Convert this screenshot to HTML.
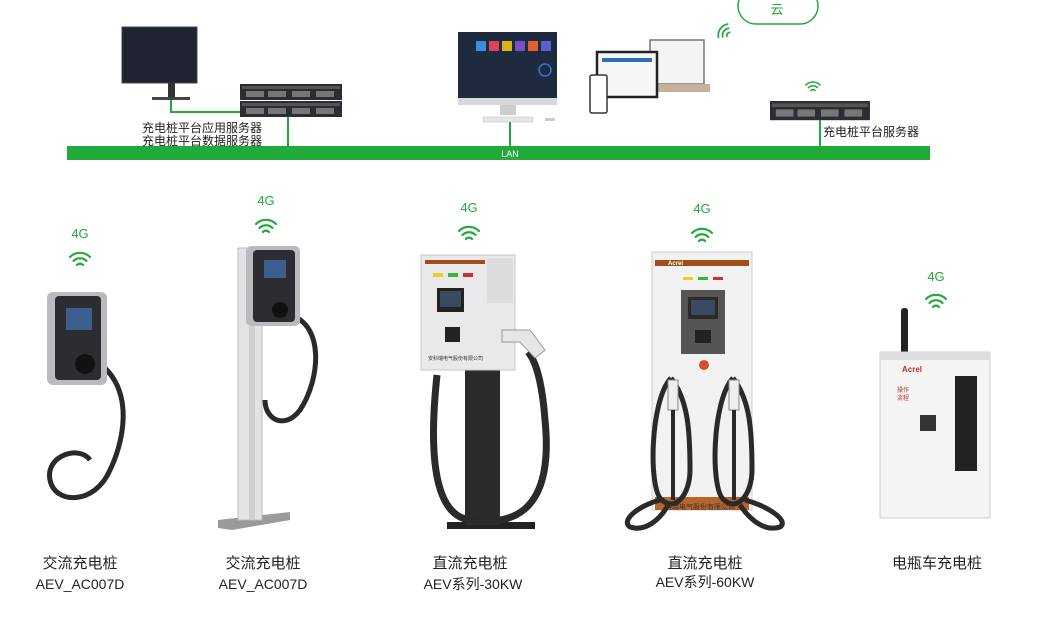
<!DOCTYPE html>
<html><head><meta charset="utf-8"><style>
html,body{margin:0;padding:0;background:#fff;}
svg{display:block;}
text{font-family:"Liberation Sans","Noto Sans CJK SC",sans-serif;}
</style></head><body>
<svg width="1041" height="618" viewBox="0 0 1041 618" xmlns="http://www.w3.org/2000/svg">
<defs>
<g id="wifi" fill="none" stroke="#22aa3a" stroke-width="2.2" stroke-linecap="round">
<path d="M-10,-3 A14,14 0 0 1 10,-3"/><path d="M-6.5,1 A9,9 0 0 1 6.5,1"/><path d="M-3,5 A4,4 0 0 1 3,5"/>
</g>
<g id="srv">
<rect x="0" y="0" width="102" height="16" fill="#2a2d33"/>
<rect x="2" y="2" width="98" height="3" fill="#555"/>
<rect x="6" y="7" width="18" height="6" fill="#777"/><rect x="28" y="7" width="18" height="6" fill="#777"/>
<rect x="52" y="7" width="18" height="6" fill="#777"/><rect x="76" y="7" width="18" height="6" fill="#777"/>
</g>
</defs>

<!-- LAN -->
<rect x="67" y="146" width="863" height="14" fill="#22aa3a"/>
<text x="510" y="157" font-size="9" fill="#fff" text-anchor="middle">LAN</text>

<!-- left monitor -->
<rect x="122" y="27" width="75" height="56" fill="#1f2430" stroke="#444" stroke-width="1"/>
<rect x="168" y="83" width="7" height="14" fill="#333"/>
<rect x="152" y="97" width="38" height="3" fill="#444"/>
<polyline points="171,100 171,112 240,112" fill="none" stroke="#22aa3a" stroke-width="2"/>
<use href="#srv" x="240" y="84"/>
<use href="#srv" x="240" y="101"/>
<line x1="288" y1="117" x2="288" y2="146" stroke="#22aa3a" stroke-width="2"/>
<text x="142" y="132" font-size="12" fill="#222">充电桩平台应用服务器</text>
<text x="142" y="145" font-size="12" fill="#222">充电桩平台数据服务器</text>

<!-- iMac -->
<rect x="458" y="32" width="99" height="66" fill="#1e2a3e"/>
<rect x="476" y="41" width="10" height="10" fill="#3a8ee0"/><rect x="489" y="41" width="10" height="10" fill="#e0405a"/>
<rect x="502" y="41" width="10" height="10" fill="#d8b020"/><rect x="515" y="41" width="10" height="10" fill="#7a50c8"/>
<rect x="528" y="41" width="10" height="10" fill="#e06030"/><rect x="541" y="41" width="10" height="10" fill="#5a60d0"/>
<circle cx="545" cy="70" r="6" fill="none" stroke="#3a70e0" stroke-width="1.5"/>
<rect x="458" y="98" width="99" height="7" fill="#d8d8da"/>
<rect x="500" y="105" width="16" height="10" fill="#ccc"/>
<rect x="483" y="117" width="50" height="5" fill="#e6e6e6" stroke="#bbb" stroke-width="0.5"/>
<rect x="545" y="118" width="10" height="3" fill="#ccc"/>
<line x1="510" y1="122" x2="510" y2="146" stroke="#22aa3a" stroke-width="2"/>

<!-- laptop, tablet, phone -->
<rect x="650" y="40" width="54" height="44" fill="#f2f4f6" stroke="#777" stroke-width="1.5"/>
<rect x="645" y="84" width="65" height="8" fill="#c7b09a"/>
<rect x="597" y="52" width="60" height="45" fill="#f6f6f6" stroke="#222" stroke-width="2.5"/>
<rect x="602" y="58" width="50" height="4" fill="#2a6fb8"/>
<rect x="590" y="75" width="17" height="38" rx="2" fill="#fff" stroke="#333" stroke-width="1.5"/>

<!-- cloud -->
<rect x="738" y="-12" width="80" height="36" rx="18" fill="#fff" stroke="#22aa3a" stroke-width="1.5"/>
<text x="777" y="14" font-size="13" fill="#22aa3a" text-anchor="middle">云</text>
<use href="#wifi" transform="translate(725,32) rotate(-55) scale(0.8)"/>

<!-- right server -->
<use href="#wifi" transform="translate(813,87) scale(0.7)"/>
<use href="#srv" transform="translate(770,101) scale(0.98,1.2)"/>
<line x1="820" y1="120" x2="820" y2="146" stroke="#22aa3a" stroke-width="2"/>
<text x="823" y="136" font-size="12" fill="#222">充电桩平台服务器</text>

<!-- 4G labels + wifi -->
<g font-size="13" fill="#22aa3a" text-anchor="middle" font-family="Liberation Serif,serif">
<text x="80" y="238">4G</text><text x="266" y="205">4G</text><text x="469" y="212">4G</text><text x="702" y="213">4G</text><text x="936" y="281">4G</text>
</g>
<use href="#wifi" x="80" y="260"/><use href="#wifi" x="266" y="227"/><use href="#wifi" x="469" y="234"/><use href="#wifi" x="702" y="236"/><use href="#wifi" x="936" y="302"/>

<!-- charger 1 : AC wall -->
<path d="M95,360 C140,390 120,450 110,470 C95,505 55,505 50,480 C45,455 80,445 90,460" fill="none" stroke="#2a2a2a" stroke-width="5"/>
<rect x="47" y="292" width="60" height="93" rx="6" fill="#b9bbbe"/>
<rect x="55" y="296" width="46" height="84" rx="4" fill="#2c2d30"/>
<rect x="66" y="308" width="26" height="22" fill="#3c5f90"/>
<circle cx="85" cy="364" r="10" fill="#111"/>

<!-- charger 2 : pedestal -->
<polygon points="218,520 290,512 290,520 232,530 218,528" fill="#9a9a9c"/>
<rect x="238" y="248" width="24" height="272" fill="#e3e3e5" stroke="#bbb" stroke-width="1"/>
<rect x="249" y="248" width="6" height="272" fill="#cfcfd1"/>
<path d="M290,315 C325,325 320,380 300,410 C285,430 265,420 265,400" fill="none" stroke="#2a2a2a" stroke-width="5"/>
<rect x="246" y="246" width="54" height="80" rx="5" fill="#b9bbbe"/>
<rect x="253" y="250" width="42" height="72" rx="4" fill="#2c2d30"/>
<rect x="264" y="260" width="22" height="18" fill="#3c5f90"/>
<circle cx="280" cy="310" r="8" fill="#111"/>

<!-- charger 3 : DC 30kW -->
<rect x="447" y="522" width="88" height="7" fill="#222"/>
<rect x="465" y="370" width="35" height="155" fill="#2b2b2b"/>
<path d="M437,375 C430,440 430,515 470,520 C505,525 555,520 545,420 C542,380 535,360 528,352" fill="none" stroke="#2a2a2a" stroke-width="7"/>
<rect x="421" y="255" width="94" height="115" fill="#e9e9eb" stroke="#c8c8ca" stroke-width="1"/>
<rect x="487" y="258" width="26" height="45" fill="#dcdcde"/>
<rect x="425" y="260" width="60" height="4" fill="#a24d1a"/>
<rect x="433" y="273" width="10" height="4" fill="#e8d028"/><rect x="448" y="273" width="10" height="4" fill="#3ab53a"/><rect x="463" y="273" width="10" height="4" fill="#d83020"/>
<rect x="437" y="288" width="27" height="24" fill="#222"/><rect x="440" y="291" width="21" height="16" fill="#3c4a60"/>
<rect x="445" y="327" width="15" height="15" fill="#222"/>
<path d="M502,330 L530,330 L545,350 L535,358 L520,342 L502,342 Z" fill="#e6e6e8" stroke="#999" stroke-width="1"/>
<text x="428" y="360" font-size="5" fill="#333">安科瑞电气股份有限公司</text>

<!-- charger 4 : DC 60kW -->
<rect x="652" y="252" width="100" height="258" fill="#f2f2f3" stroke="#ccc" stroke-width="1"/>
<rect x="655" y="260" width="94" height="6" fill="#a24d1a"/>
<text x="668" y="265" font-size="6" fill="#fff" font-weight="bold">Acrel</text>
<rect x="683" y="277" width="10" height="3" fill="#e8d028"/><rect x="698" y="277" width="10" height="3" fill="#3ab53a"/><rect x="713" y="277" width="10" height="3" fill="#d83020"/>
<rect x="681" y="290" width="44" height="64" fill="#555"/>
<rect x="688" y="297" width="30" height="22" fill="#2a2a2a"/><rect x="691" y="300" width="24" height="15" fill="#3c4a60"/>
<rect x="695" y="330" width="16" height="13" fill="#222"/>
<circle cx="704" cy="365" r="5" fill="#d05030"/>
<rect x="655" y="497" width="94" height="13" fill="#b9652a"/>
<path d="M671,378 C650,400 648,490 662,500 C675,512 690,495 690,470 C690,430 688,400 671,378" fill="none" stroke="#2a2a2a" stroke-width="5"/>
<path d="M733,378 C712,400 710,490 724,500 C737,512 752,495 752,470 C752,430 750,400 733,378" fill="none" stroke="#2a2a2a" stroke-width="5"/>
<path d="M660,500 C640,505 620,520 630,527 C645,532 660,520 668,505" fill="none" stroke="#2a2a2a" stroke-width="5"/>
<path d="M745,500 C765,505 790,520 780,527 C765,532 750,520 740,505" fill="none" stroke="#2a2a2a" stroke-width="5"/>
<rect x="668" y="380" width="10" height="30" fill="#eee" stroke="#888" stroke-width="1"/>
<rect x="729" y="380" width="10" height="30" fill="#eee" stroke="#888" stroke-width="1"/>
<line x1="673" y1="410" x2="673" y2="500" stroke="#2a2a2a" stroke-width="4"/>
<line x1="734" y1="410" x2="734" y2="500" stroke="#2a2a2a" stroke-width="4"/>
<text x="665" y="509" font-size="7" fill="#333">科瑞电气股份有限公司</text>

<!-- charger 5 : e-bike -->
<rect x="901" y="308" width="7" height="48" rx="3" fill="#222"/>
<rect x="880" y="352" width="110" height="166" fill="#f4f4f5" stroke="#ccc" stroke-width="1"/>
<rect x="880" y="352" width="110" height="8" fill="#ddd"/>
<text x="902" y="372" font-size="8" fill="#c03020" font-weight="bold">Acrel</text>
<rect x="955" y="376" width="22" height="95" fill="#222"/>
<rect x="920" y="415" width="16" height="16" fill="#333"/>
<text x="897" y="392" font-size="6" fill="#c03020">操作</text><text x="897" y="400" font-size="6" fill="#c03020">流程</text>

<!-- bottom labels -->
<g font-size="15" fill="#222" text-anchor="middle">
<text x="80" y="568">交流充电桩</text><text x="80" y="589" font-size="14">AEV_AC007D</text>
<text x="263" y="568">交流充电桩</text><text x="263" y="589" font-size="14">AEV_AC007D</text>
<text x="470" y="568">直流充电桩</text><text x="473" y="589" font-size="14">AEV系列-30KW</text>
<text x="705" y="568">直流充电桩</text><text x="705" y="587" font-size="14">AEV系列-60KW</text>
<text x="937" y="568">电瓶车充电桩</text>
</g>
</svg>
</body></html>
